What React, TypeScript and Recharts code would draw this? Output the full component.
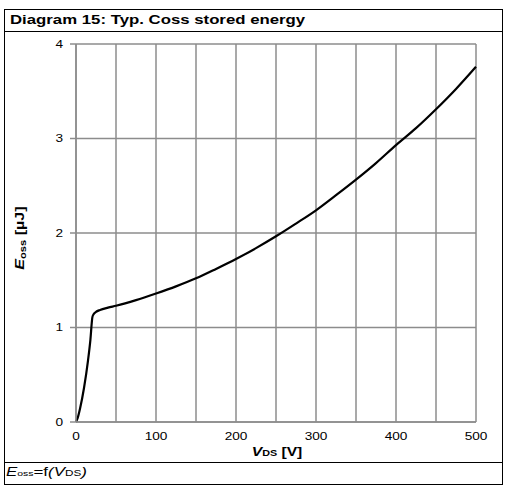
import React from "react";
import { LineChart, Line, XAxis, YAxis, CartesianGrid } from "recharts";

const vdsValues = [0, 2, 5, 10, 15, 18, 20.5, 22, 25, 30, 40, 50, 75, 100, 125, 150, 175, 200, 225, 250, 275, 300, 325, 350, 375, 400, 425, 450, 475, 500];
const eossValues = [0, 0.04, 0.14, 0.36, 0.65, 0.87, 1.11, 1.14, 1.165, 1.185, 1.21, 1.23, 1.29, 1.36, 1.435, 1.52, 1.62, 1.725, 1.84, 1.965, 2.1, 2.24, 2.4, 2.565, 2.74, 2.93, 3.11, 3.31, 3.525, 3.76];
const xTicks = [0, 50, 100, 150, 200, 250, 300, 350, 400, 450, 500];
const yTicks = [0, 1, 2, 3, 4];

const data = vdsValues.map((v, i) => ({ vds: v, eoss: eossValues[i] }));

const FONT = "'Liberation Sans', Arial, sans-serif";
const GRID = "#8c8c8c";
const SX = 1.3;

const XTick = (props: any) => {
  const { x, y, payload } = props;
  const v = payload.value;
  if (v % 100 !== 0) return <g />;
  return (
    <g transform={`translate(${x},${y})`}>
      <text transform={`scale(${SX},1)`} textAnchor="middle" dy="0.71em" fontFamily={FONT} fontSize={10.5} fill="#000">
        {String(v)}
      </text>
    </g>
  );
};

const YTick = (props: any) => {
  const { x, y, payload } = props;
  return (
    <g transform={`translate(${x},${y})`}>
      <text transform={`scale(${SX},1)`} textAnchor="end" dy="0.355em" fontFamily={FONT} fontSize={10.5} fill="#000">
        {String(payload.value)}
      </text>
    </g>
  );
};

const YLabel = (props: any) => {
  const { viewBox } = props;
  const cx = 20;
  const cy = viewBox.y + viewBox.height / 2 + 5;
  return (
    <g transform={`translate(${cx},${cy}) rotate(-90) scale(1.24,1)`}>
      <text
        x={0}
        y={0}
        textAnchor="middle"
        dominantBaseline="central"
        fontFamily={FONT}
        fontWeight="bold"
        fontSize={13}
        fill="#000"
      >
        <tspan fontStyle="italic">E</tspan>
        <tspan fontSize={9} dy={2}>oss</tspan>
        <tspan dy={-2}> [µJ]</tspan>
      </text>
    </g>
  );
};

const XLabel = (props: any) => {
  const { viewBox } = props;
  const cx = viewBox.x + viewBox.width / 2 + 1;
  const cy = 456;
  return (
    <g transform={`translate(${cx},${cy}) scale(1.2,1)`}>
      <text x={0} y={0} textAnchor="middle" fontFamily={FONT} fontWeight="bold" fontSize={13} fill="#000">
        <tspan fontStyle="italic">V</tspan>
        <tspan fontSize={9}>DS</tspan>
        <tspan> [V]</tspan>
      </text>
    </g>
  );
};

export default function App() {
  return (
    <div style={{ position: "absolute", left: 0, top: 0, width: 516, height: 494, background: "#fff", fontFamily: FONT }}>
      <div
        style={{
          position: "absolute",
          left: 4,
          top: 9,
          width: 497,
          height: 474,
          border: "1.5px solid #000",
          boxSizing: "content-box",
        }}
      />
      <div style={{ position: "absolute", left: 4, top: 30.5, width: 499, height: 0, borderTop: "1.5px solid #000" }} />
      <div style={{ position: "absolute", left: 4, top: 462, width: 499, height: 0, borderTop: "1.5px solid #000" }} />
      <div
        style={{
          position: "absolute",
          left: 10,
          top: 11,
          fontSize: 13,
          fontWeight: "bold",
          color: "#000",
          whiteSpace: "nowrap",
          lineHeight: "17px",
          transform: "scaleX(1.29)",
          transformOrigin: "0 0",
        }}
      >
        Diagram 15: Typ. Coss stored energy
      </div>
      <div
        style={{
          position: "absolute",
          left: 6,
          top: 464,
          fontSize: 13,
          color: "#000",
          whiteSpace: "nowrap",
          lineHeight: "16px",
          transform: "scaleX(1.3)",
          transformOrigin: "0 0",
        }}
      >
        <i>E</i>
        <span style={{ fontSize: 8 }}>oss</span>=f<i>(V</i>
        <span style={{ fontSize: 9 }}>DS</span>
        <i>)</i>
      </div>
      <div style={{ position: "absolute", left: 0, top: 0 }}>
        <LineChart width={516} height={494} data={data} margin={{ top: 44, right: 40, bottom: 42, left: 0 }}>
          <CartesianGrid stroke={GRID} strokeWidth={1.5} />
          <XAxis
            dataKey="vds"
            type="number"
            domain={[0, 500]}
            ticks={xTicks}
            interval={0}
            height={30}
            tickSize={0}
            tickMargin={11}
            axisLine={{ stroke: GRID, strokeWidth: 1.5 }}
            tick={(p: any) => <XTick {...p} />}
            label={<XLabel />}
          />
          <YAxis
            type="number"
            domain={[0, 4]}
            ticks={yTicks}
            interval={0}
            width={76}
            tickSize={6}
            tickMargin={7}
            axisLine={{ stroke: GRID, strokeWidth: 1.5 }}
            tickLine={{ stroke: GRID, strokeWidth: 1.5 }}
            tick={(p: any) => <YTick {...p} />}
            label={<YLabel />}
          />
          <Line
            type="monotone"
            dataKey="eoss"
            stroke="#000"
            strokeWidth={2.2}
            dot={false}
            isAnimationActive={false}
          />
        </LineChart>
      </div>
    </div>
  );
}
